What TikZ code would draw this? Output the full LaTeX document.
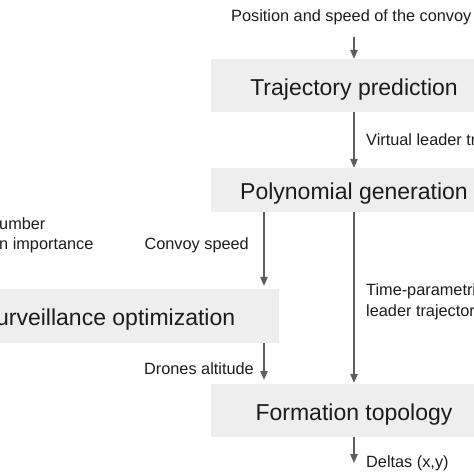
\documentclass[tikz,border=0pt]{standalone}
\usepackage{fontspec}
\setmainfont{Liberation Sans}
\usetikzlibrary{arrows.meta}
\definecolor{boxfill}{HTML}{EEEEEE}
\definecolor{arrowgray}{HTML}{5E5E5E}
\definecolor{txt}{HTML}{1C1C1C}
\tikzset{
  procbox/.style={fill=boxfill, draw=none, inner sep=0pt, text=txt,
    font=\fontsize{23}{27}\selectfont, text height=19pt, text depth=0pt},
  arr/.style={draw=arrowgray, line width=1.3pt,
    -{Triangle[width=7.5pt,length=9pt]}},
  lbl/.style={inner sep=0pt, text=txt, font=\fontsize{16.3}{20}\selectfont}
}
\begin{document}
\begin{tikzpicture}[x=1pt,y=-1pt]
\useasboundingbox (0,0) rectangle (474,474);
\begin{scope}
\clip (0,0) rectangle (474,474);
% boxes
\node[procbox, minimum width=286pt, minimum height=53pt] (traj) at (354,85.5) {Trajectory prediction};
\node[procbox, minimum width=286pt, minimum height=44pt] (poly) at (354,190) {Polynomial generation};
\node[procbox, minimum width=342pt, minimum height=54pt] (surv) at (108,316) {Surveillance optimization};
\node[procbox, minimum width=286pt, minimum height=53pt] (form) at (354,410.5) {Formation topology};
% free ends
\coordinate (in) at (354,37);
\coordinate (out) at (354,463);
% connectors
\draw[arr] (in) -- (traj.north);
\draw[arr] (traj.south) -- (poly.north);
\draw[arr, shorten >=3pt] (poly.south -| 264,0) -- (surv.north -| 264,0);
\draw[arr, shorten >=1pt] (poly.south) -- (form.north);
\draw[arr, shorten >=4pt] (surv.south -| 264,0) -- (form.north -| 264,0);
\draw[arr] (form.south) -- (out);
% labels
\node[lbl, anchor=base west] (lin) at (231,21) {Position and speed of the convoy};
\node[lbl, anchor=base west] (lvl) at (366,145) {Virtual leader trajectory};
\node[lbl, anchor=base west] (lnum) at (-1,229) {umber};
\node[lbl, anchor=base west] (limp) at (-1,249) {n importance};
\node[lbl, anchor=base east] (lcs) at (249,249) {Convoy speed};
\node[lbl, anchor=base west] (ltp1) at (366,295) {Time-parametric virtual};
\node[lbl, anchor=base west] (ltp2) at (366,316) {leader trajectory};
\node[lbl, anchor=base east] (lda) at (254,374) {Drones altitude};
\node[lbl, anchor=base west] (ldx) at (366,467) {Deltas (x,y)};
\end{scope}
\end{tikzpicture}
\end{document}
